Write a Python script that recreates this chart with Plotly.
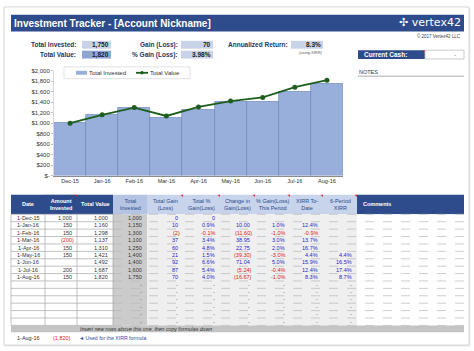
import plotly.graph_objects as go

# ---------------- data ----------------
months = ["Dec-15", "Jan-16", "Feb-16", "Mar-16", "Apr-16", "May-16", "Jun-16", "Jul-16", "Aug-16"]
dates = ["1-Dec-15", "1-Jan-16", "1-Feb-16", "1-Mar-16", "1-Apr-16", "1-May-16", "1-Jun-16", "1-Jul-16", "1-Aug-16"]
amount_invested = [1000, 150, 150, -200, 150, 150, None, 200, 150]
total_value = [1000, 1160, 1298, 1137, 1310, 1421, 1492, 1687, 1820]
total_invested = [1000, 1150, 1300, 1100, 1250, 1400, 1400, 1600, 1750]
total_gain = [0, 10, -2, 37, 60, 21, 92, 87, 70]
total_pct = [None, 0.9, -0.1, 3.4, 4.8, 1.5, 6.6, 5.4, 4.0]
change_gain = [None, 10.00, -11.60, 38.95, 22.75, -39.30, 71.04, -5.24, -16.67]
pct_period = [None, 1.0, -1.0, 3.0, 2.0, -3.0, 5.0, -0.4, -1.0]
xirr_to_date = [None, 12.4, -0.9, 13.7, 16.7, 4.4, 15.9, 12.4, 8.3]
xirr_6 = [None, None, None, None, None, 4.4, 16.5, 17.4, 8.7]
pct_gain_total = 3.98
annualized_return = 8.3
y_ticks = [0, 200, 400, 600, 800, 1000, 1200, 1400, 1600, 1800, 2000]
y_ticktext = ["$-", "$200", "$400", "$600", "$800", "$1,000", "$1,200", "$1,400", "$1,600", "$1,800", "$2,000"]
headers = ["Date", "Amount<br>Invested", "Total Value", "Total<br>Invested", "Total Gain<br>(Loss)",
           "Total %<br>Gain(Loss)", "Change in<br>Gain(Loss)", "% Gain(Loss)<br>This Period",
           "XIRR To-<br>Date", "6-Period<br>XIRR", "Comments"]
blank_rows = 6

# ---------------- helpers ----------------
W, H = 474, 351
FONT = "Liberation Sans, Arial, sans-serif"
DARK = "#2E4C8C"
NAVY = "#1F3563"
BLUE_TXT = "#2626C8"
RED_TXT = "#E02020"
BAR_FILL = "#99AFDB"
BAR_LINE = "#6D86BA"
LINE_COL = "#1C5E1C"


def px(x):
    return x / W


def py(y):
    return 1 - y / H


shapes = []
ann = []


def rect(x0, y0, x1, y1, fill=None, line=None, lw=1, dash=None, layer="above"):
    shapes.append(dict(type="rect", xref="paper", yref="paper", x0=px(x0), x1=px(x1), y0=py(y1), y1=py(y0),
                       fillcolor=fill or "rgba(0,0,0,0)", layer=layer,
                       line=dict(color=line or "rgba(0,0,0,0)", width=lw if line else 0, dash=dash)))


def hline(x0, x1, y, color, lw=1, dash=None):
    shapes.append(dict(type="line", xref="paper", yref="paper", x0=px(x0), x1=px(x1), y0=py(y), y1=py(y),
                       line=dict(color=color, width=lw, dash=dash)))


def vline(x, y0, y1, color, lw=1, dash=None):
    shapes.append(dict(type="line", xref="paper", yref="paper", x0=px(x), x1=px(x), y0=py(y0), y1=py(y1),
                       line=dict(color=color, width=lw, dash=dash)))


def tri(x, y, s=3, color="#E02020"):
    shapes.append(dict(type="path", xref="paper", yref="paper",
                       path=f"M {px(x-s)} {py(y)} L {px(x)} {py(y)} L {px(x)} {py(y+s)} Z",
                       fillcolor=color, line=dict(width=0)))


def text(x, y, s, size=6, color="#333333", bold=False, anchor="left", italic=False, family=FONT):
    if bold:
        s = f"<b>{s}</b>"
    if italic:
        s = f"<i>{s}</i>"
    ann.append(dict(x=px(x), y=py(y), xref="paper", yref="paper", text=s, showarrow=False,
                    xanchor=anchor, yanchor="middle", borderpad=0,
                    font=dict(size=size, color=color, family=family)))


def fmt_int(v):
    if v is None:
        return ""
    if v < 0:
        return f"({abs(v):,.0f})"
    return f"{v:,.0f}"


def fmt_dec(v):
    if v is None:
        return ""
    if v < 0:
        return f"({abs(v):,.2f})"
    return f"{v:,.2f}"


def fmt_pct(v):
    if v is None:
        return ""
    return f"{v:.1f}%"


def col(v):
    return RED_TXT if (v is not None and v < 0) else BLUE_TXT


# ---------------- page frame & title ----------------
rect(5, 5, 470.5, 349.5, fill="#EBEBEB", layer="below")
rect(4, 4, 469, 348, fill="white", line="#D4D4D4", lw=1, layer="below")
rect(11, 12, 464, 29, fill=DARK)
text(13, 20.5, "Investment Tracker - [Account Nickname]", size=10, color="white", bold=True)
text(462, 20, "✣ vertex42", size=11, color="white", anchor="right", family="DejaVu Sans, sans-serif")
text(462, 34, "© 2017 Vertex42 LLC", size=4.5, color="#444444", anchor="right")

# ---------------- summary ----------------
LBOX = "#C8D2E8"
DBOX = "#8EA6D6"
text(77, 42.5, "Total Invested:", size=6.5, color=NAVY, bold=True, anchor="right")
rect(82, 38.5, 111, 46.5, fill=LBOX)
text(110, 42.5, fmt_int(total_invested[-1]), size=6.5, color="#1A1A1A", bold=True, anchor="right")
text(77, 52.5, "Total Value:", size=6.5, color=NAVY, bold=True, anchor="right")
rect(82, 48.5, 111, 56.5, fill=DBOX)
text(110, 52.5, fmt_int(total_value[-1]), size=6.5, color="#1A1A1A", bold=True, anchor="right")

text(179, 42.5, "Gain (Loss):", size=6.5, color=NAVY, bold=True, anchor="right")
rect(181, 38.5, 213, 46.5, fill=LBOX)
text(212, 42.5, fmt_int(total_value[-1] - total_invested[-1]), size=6.5, color="#1A1A1A", bold=True, anchor="right")
text(179, 52.5, "% Gain (Loss):", size=6.5, color=NAVY, bold=True, anchor="right")
rect(181, 48.5, 213, 56.5, fill=LBOX)
text(212, 52.5, f"{pct_gain_total:.2f}%", size=6.5, color="#1A1A1A", bold=True, anchor="right")

text(289, 42.5, "Annualized Return:", size=6.5, color=NAVY, bold=True, anchor="right")
rect(291, 38.5, 323, 46.5, fill=LBOX)
text(322, 42.5, f"{annualized_return:.1f}%", size=6.5, color="#1A1A1A", bold=True, anchor="right")
text(311, 50.5, "(using XIRR)", size=4, color="#555555", anchor="center")

rect(358, 48, 425, 57, fill=DARK)
tri(425, 48, 2.5)
text(363, 52.5, "Current Cash:", size=6.5, color="white", bold=True)
rect(425, 48, 464, 57, fill="white", line="#BFBFBF", lw=0.8)
text(455, 52.5, "-", size=6, color="#555555", anchor="center")

text(358, 70, "NOTES", size=5.5, color=NAVY)
hline(358, 464, 74.5, "#C8C8C8", lw=1.5)

# ---------------- chart legend (drawn manually) ----------------
rect(64, 65, 190, 77, fill="white", line="#D9D9D9", lw=0.8)
rect(76, 69, 87, 73, fill=BAR_FILL)
text(88, 71, "Total Invested", size=6, color="#333333")
hline(136, 148, 71, LINE_COL, lw=1.8)
shapes.append(dict(type="circle", xref="paper", yref="paper", x0=px(140.3), x1=px(143.7), y0=py(72.7), y1=py(69.3),
                   fillcolor=LINE_COL, line=dict(width=0)))
text(149, 71, "Total Value", size=6, color="#333333")

# ---------------- table ----------------
bounds = [11, 45, 77, 113, 147, 183, 220, 255, 290, 323, 357, 464]
hdr_top, hdr_bot = 195, 215
tbl_bot = 328
nrows = len(dates) + blank_rows
rh = (tbl_bot - hdr_bot) / nrows

hdr_fill = [DARK, DARK, DARK, "#B4C4E2", "#C8D4EC", "#C8D4EC", "#C8D4EC", "#C8D4EC", "#C8D4EC", "#C8D4EC", DARK]
for i in range(len(headers)):
    x0, x1 = bounds[i], bounds[i + 1]
    rect(x0, hdr_top, x1, hdr_bot, fill=hdr_fill[i])
    if i < 3 or i == 10:
        if i == 10:
            text(x0 + 5, (hdr_top + hdr_bot) / 2, headers[i], size=5.5, color="white", bold=True)
        else:
            text((x0 + x1) / 2, (hdr_top + hdr_bot) / 2, headers[i], size=5.5, color="white", bold=True, anchor="center")
    else:
        text((x0 + x1) / 2, (hdr_top + hdr_bot) / 2, headers[i], size=5.5, color="#2A4A8A", anchor="center")
for i in [1, 4, 5, 6, 7, 8, 9]:
    tri(bounds[i + 1], hdr_top, 2.5)

# body backgrounds
rect(bounds[0], hdr_bot, bounds[3], tbl_bot, fill="white")
rect(bounds[3], hdr_bot, bounds[4], tbl_bot, fill="#CBCBCB")
rect(bounds[4], hdr_bot, bounds[10], tbl_bot, fill="#EFEFEF")
rect(bounds[10], hdr_bot, bounds[11], tbl_bot, fill="white")

for r in range(nrows + 1):
    y = hdr_bot + r * rh
    hline(bounds[0], bounds[3], y, "#A8A8A8", lw=0.7)
    hline(bounds[3], bounds[11], y, "#B8B8B8", lw=0.7, dash="dash")
for b in bounds[:4]:
    vline(b, hdr_bot, tbl_bot, "#A8A8A8", lw=0.7)

columns = [
    ([d for d in dates], ["#333333"] * 9, "center"),
    ([fmt_int(v) for v in amount_invested], [RED_TXT if (v is not None and v < 0) else "#333333" for v in amount_invested], "right"),
    ([fmt_int(v) for v in total_value], ["#333333"] * 9, "right"),
    ([fmt_int(v) for v in total_invested], ["#333333"] * 9, "right"),
    ([fmt_int(v) for v in total_gain], [col(v) for v in total_gain], "right"),
    ([fmt_pct(v) if v is not None else "0" for v in total_pct], [col(v) for v in total_pct], "right"),
    ([fmt_dec(v) for v in change_gain], [col(v) for v in change_gain], "right"),
    ([fmt_pct(v) for v in pct_period], [col(v) for v in pct_period], "right"),
    ([fmt_pct(v) for v in xirr_to_date], [col(v) for v in xirr_to_date], "right"),
    ([fmt_pct(v) for v in xirr_6], [col(v) for v in xirr_6], "right"),
]
for c, (vals, cols, al) in enumerate(columns):
    x0, x1 = bounds[c], bounds[c + 1]
    for r, (s, colr) in enumerate(zip(vals, cols)):
        if not s:
            continue
        yc = hdr_bot + (r + 0.5) * rh
        neg = s.startswith("(")
        if al == "center":
            text((x0 + x1) / 2, yc, s, size=5.5, color=colr, anchor="center")
        else:
            text(x1 - (2 if neg else 4), yc, s, size=5.5, color=colr, anchor="right")
    if c >= 3:
        for r in range(len(dates), nrows):
            yc = hdr_bot + (r + 0.5) * rh
            text(x1 - 4, yc, "-", size=5.5, color="#555555", anchor="right")

rect(11, tbl_bot, 464, 335, fill="#C4C4C4")
text(79, 331.5, "Insert new rows above this one, then copy formulas down", size=5.2, color="#333333", italic=True)
text(16, 340.5, dates[-1], size=5.5, color="#333333")
text(52, 340.5, fmt_int(-total_value[-1]), size=5.5, color=RED_TXT)
text(78, 340.5, "◄ Used for the XIRR formula", size=5.2, color="#3050A0")

# ---------------- chart ----------------
fig = go.Figure()
fig.add_trace(go.Bar(x=months, y=total_invested, name="Total Invested", width=1,
                     marker=dict(color=BAR_FILL, line=dict(color=BAR_LINE, width=0.7))))
fig.add_trace(go.Scatter(x=months, y=total_value, name="Total Value", mode="lines+markers",
                         line=dict(color=LINE_COL, width=1.8), marker=dict(color=LINE_COL, size=5)))

fig.update_layout(
    width=W, height=H, autosize=False,
    margin=dict(l=0, r=0, t=0, b=0),
    paper_bgcolor="white", plot_bgcolor="rgba(0,0,0,0)",
    font=dict(family=FONT, color="#333333"),
    bargap=0, showlegend=False,
    shapes=shapes, annotations=ann,
    xaxis=dict(domain=[px(54), px(343)], type="category", range=[-0.5, 8.5],
               showline=True, linecolor="#8C8C8C", linewidth=1, showgrid=False, ticks="",
               tickfont=dict(size=5.5, color="#333333"), fixedrange=True),
    yaxis=dict(domain=[py(175.5), py(69)], range=[0, 2000], tickvals=y_ticks, ticktext=y_ticktext,
               showline=True, linecolor="#D9D9D9", showgrid=False, ticks="outside", ticklen=2,
               tickcolor="#BFBFBF", tickfont=dict(size=6, color="#333333"), zeroline=False, fixedrange=True),
)
fig.write_html("out.html")
